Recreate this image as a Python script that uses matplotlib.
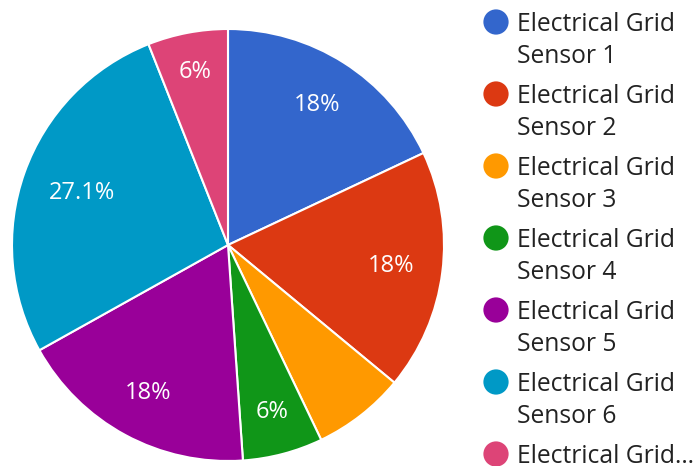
import matplotlib
matplotlib.use("Agg")
import matplotlib.pyplot as plt
import numpy as np

# slice data
sensors = ["Electrical Grid Sensor 1", "Electrical Grid Sensor 2", "Electrical Grid Sensor 3",
           "Electrical Grid Sensor 4", "Electrical Grid Sensor 5", "Electrical Grid Sensor 6",
           "Electrical Grid Sensor 7"]
shares = [18, 18, 6.9, 6, 18, 27.1, 6]
show_label = [True, True, False, True, True, True, True]
colors = ["#3366cc", "#dc3912", "#ff9900", "#109618", "#990099", "#0099c6", "#dd4477"]
# radial position of each percent label (fraction of radius)
label_r = [0.77, 0.76, 0.76, 0.80, 0.78, 0.72, 0.815]

plt.rcParams['font.family'] = ['Open Sans', 'DejaVu Sans']

W, H = 696, 466
fig = plt.figure(figsize=(W / 100, H / 100), dpi=100)

# pie axes: center (228,245) px, radius 216 px
cx, cy, r = 228, 245, 216
ax = fig.add_axes([(cx - r) / W, (H - cy - r) / H, 2 * r / W, 2 * r / H])

pct_iter = iter(range(len(shares)))
def fmt(p):
    i = next(pct_iter)
    return ("%g%%" % shares[i]) if show_label[i] else ""

wedges, texts, autotexts = ax.pie(shares, colors=colors, startangle=90, counterclock=False,
                                  autopct=fmt, pctdistance=0.76, radius=1,
                                  wedgeprops=dict(edgecolor="white", linewidth=1.5),
                                  textprops=dict(color="white", fontsize=17))
for w, t, lr in zip(wedges, autotexts, label_r):
    a = np.deg2rad((w.theta1 + w.theta2) / 2)
    t.set_position((lr * np.cos(a), lr * np.sin(a)))
ax.set_xlim(-1, 1)
ax.set_ylim(-1, 1)
ax.set_aspect("equal")
ax.axis("off")

# legend drawn by hand
lg = fig.add_axes([0, 0, 1, 1])
lg.set_xlim(0, W)
lg.set_ylim(H, 0)
lg.axis("off")
lg.patch.set_alpha(0)
for i, (name, c) in enumerate(zip(sensors, colors)):
    y = 22 + 72 * i
    lg.scatter([496], [y], s=330, color=c, edgecolors="none")
    if i < 6:
        first, second = name.rsplit(" Sensor", 1)
        lg.text(517, y + 9, first, fontsize=17.7, color="#222222", va="baseline", ha="left")
        lg.text(517, y + 41, "Sensor" + second, fontsize=17.7, color="#222222",
                va="baseline", ha="left")
    else:
        lg.text(517, y + 9, "Electrical Grid\u2026", fontsize=17.7, color="#222222",
                va="baseline", ha="left")

fig.savefig("out.png", dpi=100)
